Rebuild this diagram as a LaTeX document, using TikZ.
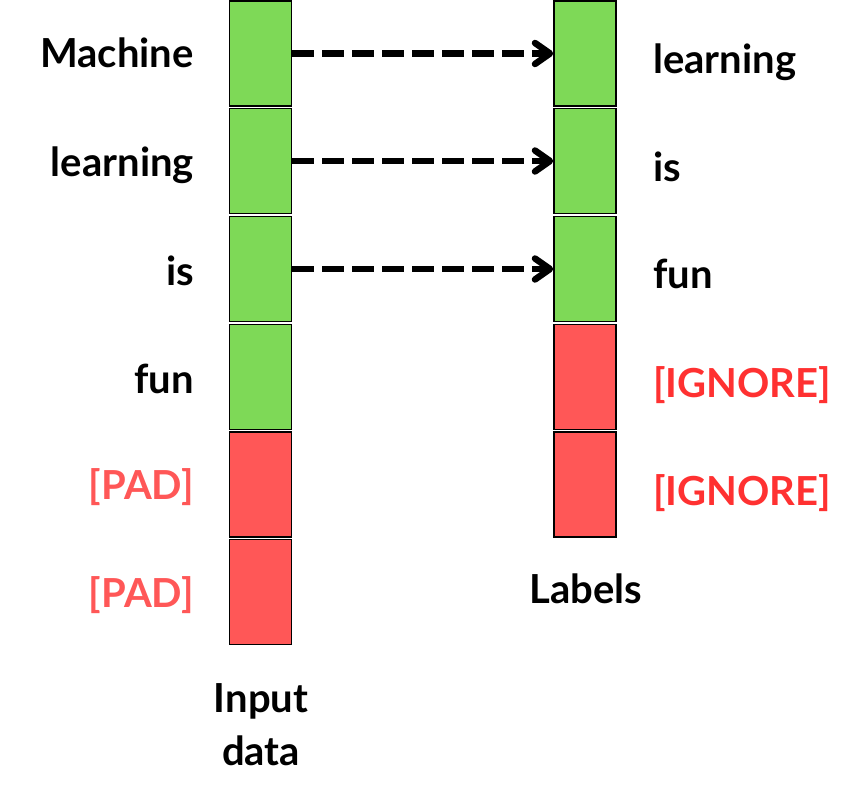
\documentclass[tikz,border=0pt]{standalone}
\usepackage{fontspec}
\setmainfont{Lato}
\usetikzlibrary{arrows.meta}
\definecolor{cellgreen}{HTML}{7ED957}
\definecolor{cellred}{HTML}{FF5757}
\definecolor{padred}{HTML}{FF5757}
\definecolor{ignred}{HTML}{FF3131}

\begin{document}
\begin{tikzpicture}[
    x=1pt, y=-1pt,
    cell/.style ={
        rectangle,
        draw=black,
        line width=1.5pt,
        minimum width=62pt,
        minimum height=105pt,
        inner sep=0pt
    },
    word/.style ={
        font=\fontsize{40}{53}\selectfont\bfseries,
        inner sep=0pt
    },
    arr/.style ={
        line width=6.5pt,
        dash pattern=on 22pt off 8pt,
        -{Straight Barb[length=15pt, width=21pt, round]}
    }
    ]
    \useasboundingbox (0,0) rectangle (848,786);

    \foreach \x/ \y/ \c in {in1/53.5/cellgreen, in2/161/cellgreen, in3/269/cellgreen,
                            in4/377/cellgreen, in5/484.5/cellred, in6/592/cellred}
        \node[cell, fill=\c] (\x) at (260.5,\y) {};

    \foreach \x/ \y/ \c in {out1/53.5/cellgreen, out2/161/cellgreen, out3/269/cellgreen,
                            out4/377/cellred, out5/484.5/cellred}
        \node[cell, fill=\c] (\x) at (585,\y) {};

    \foreach \x/ \y/ \c/ \t in {w1/68/black/Machine, w2/177/black/learning, w3/285/black/is,
                                w4/393/black/fun, w5/499/padred/[PAD], w6/607/padred/[PAD]}
        \node[word, text=\c, anchor=base east] (\x) at (194,\y) {\t};

    \foreach \x/ \y/ \c/ \t in {l1/74/black/learning, l2/182/black/is, l3/288/black/fun,
                                l4/397/ignred/[IGNORE], l5/505/ignred/[IGNORE]}
        \node[word, text=\c, anchor=base west] (\x) at (653,\y) {\t};

    \node[word, align=center, anchor=base] (inputdata) at (261,765) {Input\\data};
    \node[word, anchor=base] (labels) at (586,603) {Labels};

    \foreach \src/ \dst in {in1/out1, in2/out2, in3/out3}
        \draw[arr] (\src) -- (\dst);

\end{tikzpicture}
\end{document}
